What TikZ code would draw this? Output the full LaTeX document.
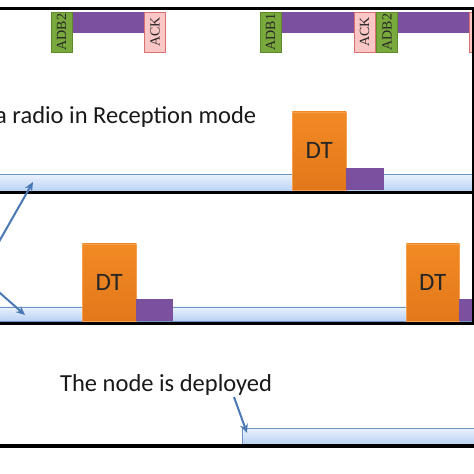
\documentclass[tikz,border=0pt]{standalone}
\usepackage{fontspec}
\setmainfont{Carlito}
\newfontfamily\serifad{Liberation Serif}
\usetikzlibrary{arrows.meta}
\definecolor{purp}{HTML}{7B519F}
\definecolor{orng}{HTML}{F28A24}
\definecolor{orngd}{HTML}{E2781A}
\definecolor{grn}{HTML}{79A83C}
\definecolor{grnb}{HTML}{5E8A2A}
\definecolor{pnk}{HTML}{FBC6C6}
\definecolor{pnkb}{HTML}{D9706F}
\definecolor{barb}{HTML}{6F93C4}
\definecolor{bart}{HTML}{EAF2FD}
\definecolor{barbot}{HTML}{B8D1F3}
\definecolor{arr}{HTML}{4A78B5}
\tikzset{
  x=1pt, y=-1pt,
  axisline/.style={line width=3.5pt, black},
  rxbar/.style={draw=barb, line width=0.9pt, top color=bart, bottom color=barbot, inner sep=0pt, anchor=north west},
  dtbox/.style={draw=orng!80!white, line width=0.5pt, top color=orng, bottom color=orngd, inner sep=0pt, anchor=south west, font=\fontsize{25}{25}\selectfont, text=black!85},
  pbar/.style={fill=purp, inner sep=0pt, anchor=north west},
  adb/.style={draw=grnb, line width=0.6pt, fill=grn, rotate=90, inner sep=0pt, minimum width=40pt, minimum height=21pt, font=\serifad\fontsize{14}{14}\selectfont, text=black!85},
  ack/.style={draw=pnkb, line width=0.6pt, fill=pnk, rotate=90, inner sep=0pt, minimum width=40pt, minimum height=21pt, font=\serifad\fontsize{14}{14}\selectfont, text=black!85},
  lbl/.style={font=\fontsize{24.5}{24.5}\selectfont, inner sep=0pt, anchor=west, text=black!90},
  pointer/.style={draw=arr, line width=2pt, -{Stealth[length=9pt,width=8pt]}}
}
\begin{document}
\begin{tikzpicture}
\useasboundingbox (0,0) rectangle (474,474);
% row 1
\node[pbar, minimum width=73pt, minimum height=21pt] (p1) at (72,12) {};
\node[pbar, minimum width=74pt, minimum height=21pt] (p2) at (281,12) {};
\node[pbar, minimum width=72pt, minimum height=21pt] (p3) at (398,12) {};
\node[adb] (adb2a) at (61.5,32) {ADB2};
\node[ack] (acka) at (155,32) {ACK};
\node[adb] (adb1) at (270.5,32) {ADB1};
\node[ack] (ackb) at (364.5,32) {ACK};
\node[adb] (adb2b) at (387,32) {ADB2};
\node[ack] (ackc) at (480,32) {};
\draw[axisline] (-2,8.5) -- (476,8.5);
% row 2
\node[lbl] (t1) at (-5,117) {a radio in Reception mode};
\node[rxbar, minimum width=480pt, minimum height=17pt] (bar2) at (-3,174) {};
\node[dtbox, minimum width=54pt, minimum height=78pt] (dt1) at (292,190) {DT};
\node[pbar, anchor=south west, minimum width=38pt, minimum height=22pt] (q1) at (346,190) {};
\draw[axisline] (-2,192.5) -- (476,192.5);
% row 3
\node[rxbar, minimum width=480pt, minimum height=14pt] (bar3) at (-3,306.5) {};
\node[dtbox, minimum width=54pt, minimum height=77pt] (dt2) at (82,321) {DT};
\node[pbar, anchor=south west, minimum width=37pt, minimum height=22pt] (q2) at (136,321) {};
\node[dtbox, minimum width=53pt, minimum height=77pt] (dt3) at (406,321) {DT};
\node[pbar, anchor=south west, minimum width=20pt, minimum height=22pt] (q3) at (459,321) {};
\draw[axisline] (-2,323.5) -- (476,323.5);
% row 4
\node[lbl] (t2) at (60,385) {The node is deployed};
\node[rxbar, minimum width=236pt, minimum height=16pt] (bar4) at (242,428) {};
\draw[axisline] (-2,446) -- (476,446);
% right frame
\draw[black, line width=1.5pt] (473,8) -- (473,324);
% arrows
\coordinate (s1) at (-8,254);
\coordinate (e1) at (33,182);
\coordinate (s2) at (-8,286);
\coordinate (e2) at (25,315);
\coordinate (s3) at (234,397);
\coordinate (e3) at (247,433);
\draw[pointer] (s1) -- (e1);
\draw[pointer] (s2) -- (e2);
\draw[pointer] (s3) -- (e3);
\end{tikzpicture}
\end{document}
